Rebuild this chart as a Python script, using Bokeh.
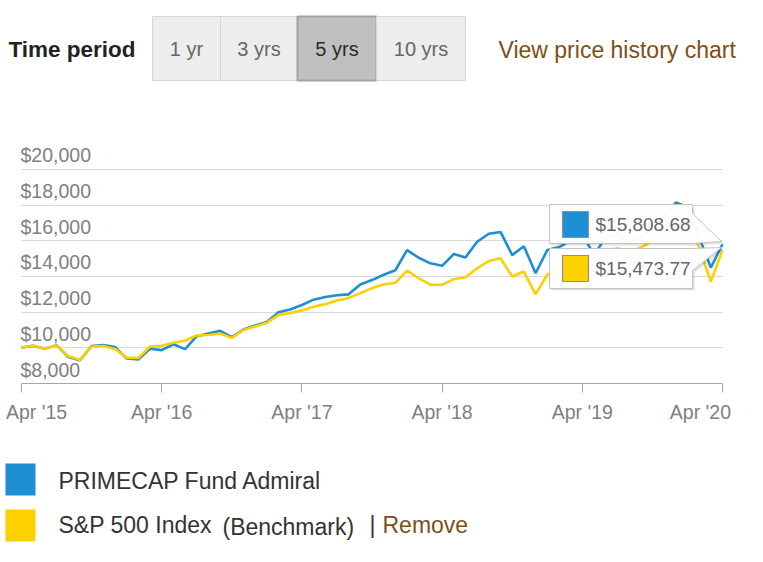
from bokeh.plotting import figure
from bokeh.layouts import column
from bokeh.models import Range1d, FixedTicker, BoxAnnotation
from bokeh.core.properties import value
from bokeh.embed import file_html
from bokeh.resources import INLINE

FONT = value("Liberation Sans")

# ---------------- data ----------------
months = list(range(61))  # Apr 2015 .. Apr 2020, monthly
primecap = [10000, 10120, 9950, 10150, 9480, 9300, 10100, 10150, 10050, 9400, 9350, 9950,
            9870, 10200, 9930, 10650, 10800, 10950, 10600, 11030, 11250, 11450, 12000, 12150,
            12400, 12700, 12850, 12950, 13000, 13550, 13800, 14100, 14350, 15480, 15050, 14740,
            14600, 15260, 15070, 15950, 16400, 16500, 15200, 15700, 14180, 15480, 15650, 16000,
            16400, 15200, 16200, 16400, 15900, 16200, 16700, 17300, 18150, 17900, 16200, 14500, 15808.68]
sp500 = [10000, 10130, 9930, 10140, 9530, 9330, 10070, 10100, 9940, 9450, 9430, 10070,
         10110, 10290, 10400, 10700, 10720, 10800, 10560, 11000, 11200, 11400, 11850, 11950,
         12100, 12300, 12450, 12650, 12800, 13070, 13350, 13550, 13650, 14330, 13900, 13540,
         13540, 13850, 13960, 14460, 14870, 15020, 14000, 14280, 13000, 14100, 14460, 14740,
         15340, 14360, 15370, 15590, 15340, 15630, 15970, 16550, 17050, 17040, 15640, 13710, 15473.77]
tick_months = [0, 12, 24, 36, 48, 60]
tick_labels = ["Apr '15", "Apr '16", "Apr '17", "Apr '18", "Apr '19", "Apr '20"]
y_ticks = [8000, 10000, 12000, 14000, 16000, 18000, 20000]
y_tick_labels = ["$8,000", "$10,000", "$12,000", "$14,000", "$16,000", "$18,000", "$20,000"]
periods = ["1 yr", "3 yrs", "5 yrs", "10 yrs"]
selected_period = "5 yrs"
fund_name = "PRIMECAP Fund Admiral"
bench_name = "S&P 500 Index"

# ---------------- styles ----------------
BLUE = "#1e8fd3"
YELLOW = "#fdd000"
BROWN = "#7d4f17"
W = 763
HEADER_H, CHART_H, LEGEND_H = 100, 340, 122


def blank_fig(h, y0):
    f = figure(width=W, height=h, x_range=Range1d(0, W), y_range=Range1d(y0 + h, y0),
               x_axis_type=None, y_axis_type=None, toolbar_location=None,
               output_backend="svg", min_border=0, outline_line_color=None)
    return f

# ---------------- header ----------------
hd = blank_fig(HEADER_H, 0)
hd.text(x=[8], y=[49], text=["Time period"], text_font=FONT, text_font_style="bold",
        text_font_size="22.5px", text_color="#222222", text_baseline="middle")
edges = [152, 220, 297, 376, 465]
for i, lab in enumerate(periods):
    sel = lab == selected_period
    hd.quad(left=edges[i], right=edges[i + 1], top=16, bottom=80,
            fill_color="#c0c0c0" if sel else "#ededed",
            line_color="#a2a2a2" if sel else "#d6d6d6", line_width=2 if sel else 1)
    hd.text(x=[(edges[i] + edges[i + 1]) / 2], y=[48], text=[lab], text_font=FONT,
            text_font_size="20px", text_color="#2a2a2a" if sel else "#666666",
            text_align="center", text_baseline="middle")
hd.text(x=[498], y=[49], text=["View price history chart"], text_font=FONT,
        text_font_size="23px", text_color=BROWN, text_baseline="middle")

# ---------------- chart ----------------
# page pixels where the data area sits
FR_L, FR_R, FR_T, FR_B = 21, 722, 140, 383
X0, X1 = 0, 60
Y0, Y1 = 8000, 21626
ppx = (FR_R - FR_L) / (X1 - X0)
ppy = (FR_B - FR_T) / (Y1 - Y0)
c = figure(width=W, height=CHART_H,
           x_range=Range1d(X0 - FR_L / ppx, X1 + (W - FR_R) / ppx), y_range=Range1d(Y0, Y1),
           toolbar_location=None, output_backend="svg",
           min_border_left=0, min_border_right=0,
           min_border_top=FR_T - HEADER_H, min_border_bottom=HEADER_H + CHART_H - FR_B,
           outline_line_color=None)
c.yaxis.visible = False
c.xgrid.visible = False
c.ygrid.ticker = FixedTicker(ticks=y_ticks)
c.ygrid.grid_line_color = "#d9d9d9"
c.ygrid.grid_line_width = 1
g = c.ygrid[0]
if "cross_bounds" in g.properties():
    g.cross_bounds = (X0, X1)
else:
    for kw in (dict(right=X0), dict(left=X1)):
        c.add_layout(BoxAnnotation(fill_color="white", fill_alpha=1, line_color=None,
                                   level="underlay", **kw))

NB = "\u00a0"
c.xaxis.ticker = FixedTicker(ticks=tick_months)
overrides = {m: t for m, t in zip(tick_months, tick_labels)}
overrides[tick_months[0]] = NB + tick_labels[0]
overrides[tick_months[-1]] = tick_labels[-1] + NB * 6
c.xaxis.major_label_overrides = overrides
c.xaxis.bounds = (X0, X1)
c.xaxis.axis_line_color = "#a6a6a6"
c.xaxis.major_tick_line_color = "#a6a6a6"
c.xaxis.major_tick_in = 0
c.xaxis.major_tick_out = 9
c.xaxis.minor_tick_line_color = None
c.xaxis.major_label_standoff = 8
c.xaxis.major_label_text_font = "Liberation Sans"
c.xaxis.major_label_text_font_size = "19.5px"
c.xaxis.major_label_text_color = "#7f7f7f"

c.text(x=[X0] * len(y_ticks), y=y_ticks, text=y_tick_labels, text_font=FONT,
       text_font_size="19.5px", text_color="#7f7f7f", text_align="left",
       text_baseline="middle", x_offset=-1, y_offset=-14)

c.line(months, primecap, line_color=BLUE, line_width=2.6)
c.line(months, sp500, line_color=YELLOW, line_width=2.6)

# tooltip (screen geometry converted through the plot's scales)
def dx(p):
    return X0 + (p - FR_L) / ppx
def dy(p):
    return Y0 + (FR_B - p) / ppy

up = [(549, 204), (692, 204), (692, 213), (721, 241), (692, 243), (549, 243)]
lo = [(549, 248), (692, 248), (721, 247), (692, 270), (692, 288), (549, 288)]
for poly in (up, lo):
    c.patch([dx(p[0] + 2) for p in poly], [dy(p[1] + 2) for p in poly],
            fill_color="#000000", fill_alpha=0.12, line_color=None)
for poly in (up, lo):
    c.patch([dx(p[0]) for p in poly], [dy(p[1]) for p in poly],
            fill_color="#ffffff", fill_alpha=0.97, line_color="#c4c4c4", line_width=1)
last_vals = [primecap[-1], sp500[-1]]
for (top, col, v) in ((211, BLUE, last_vals[0]), (255, YELLOW, last_vals[1])):
    c.quad(left=dx(562), right=dx(588), top=dy(top), bottom=dy(top + 26),
           fill_color=col, line_color="#8f8f8f", line_width=1.2)
    c.text(x=[dx(595)], y=[dy(top + 13)], text=["${:,.2f}".format(v)], text_font=FONT,
           text_font_size="19px", text_color="#666666", text_baseline="middle")

# ---------------- legend ----------------
lg = blank_fig(LEGEND_H, HEADER_H + CHART_H)
lg.quad(left=5, right=35, top=463, bottom=495, fill_color=BLUE, line_color=None)
lg.quad(left=5, right=35, top=509, bottom=541, fill_color=YELLOW, line_color=None)
LFS = "23px"
lg.text(x=[58], y=[480], text=[fund_name], text_font=FONT, text_font_size=LFS,
        text_color="#333333", text_baseline="middle")
lg.text(x=[58], y=[524], text=[bench_name], text_font=FONT, text_font_size=LFS,
        text_color="#333333", text_baseline="middle")
lg.text(x=[222], y=[526], text=["(Benchmark)"], text_font=FONT, text_font_size=LFS,
        text_color="#333333", text_baseline="middle")
lg.text(x=[369], y=[524], text=["|"], text_font=FONT, text_font_size=LFS,
        text_color="#333333", text_baseline="middle")
lg.text(x=[382], y=[524], text=["Remove"], text_font=FONT, text_font_size=LFS,
        text_color=BROWN, text_baseline="middle")

layout = column(hd, c, lg, spacing=0)
open("out.html", "w").write(file_html(layout, INLINE))
